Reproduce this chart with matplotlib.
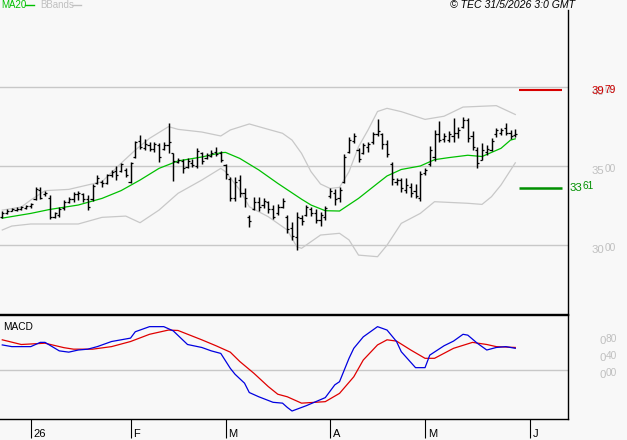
import numpy as np
import matplotlib
matplotlib.use("Agg")
import matplotlib.pyplot as plt
from matplotlib.lines import Line2D

plt.rcParams['font.family'] = ['Liberation Sans', 'DejaVu Sans']

# daily bars, prices in cents (the chart shows them as 35^00 etc.)
highs = [3217, 3226, 3234, 3238, 3249, 3255, 3268, 3369, 3369, 3344,
         3314, 3211, 3242, 3285, 3302, 3337, 3344, 3331, 3316, 3386,
         3441, 3411, 3449, 3475, 3500, 3521, 3485, 3527, 3658, 3696,
         3669, 3654, 3654, 3648, 3654, 3770, 3584, 3553, 3542, 3548,
         3542, 3612, 3591, 3580, 3601, 3618, 3597, 3513, 3432, 3432,
         3443, 3359, 3190, 3302, 3302, 3297, 3280, 3255, 3262, 3298,
         3190, 3148, 3211, 3190, 3253, 3242, 3226, 3211, 3247, 3358,
         3352, 3365, 3576, 3681, 3707, 3612, 3648, 3654, 3717, 3795,
         3707, 3665, 3524, 3422, 3426, 3422, 3390, 3384, 3470, 3488,
         3624, 3728, 3783, 3708, 3721, 3802, 3749, 3807, 3804, 3724,
         3620, 3645, 3633, 3677, 3738, 3738, 3773, 3730, 3735]
lows = [3169, 3194, 3215, 3217, 3221, 3226, 3232, 3285, 3289, 3310,
        3162, 3169, 3179, 3221, 3268, 3274, 3285, 3274, 3221, 3280,
        3386, 3369, 3386, 3432, 3411, 3464, 3432, 3394, 3548, 3605,
        3601, 3597, 3591, 3527, 3601, 3584, 3407, 3517, 3458, 3485,
        3491, 3485, 3513, 3542, 3559, 3563, 3527, 3416, 3280, 3280,
        3306, 3238, 3112, 3221, 3217, 3235, 3200, 3162, 3190, 3232,
        3078, 3031, 2968, 3126, 3183, 3183, 3137, 3120, 3158, 3295,
        3253, 3274, 3390, 3584, 3643, 3527, 3576, 3590, 3639, 3690,
        3605, 3559, 3380, 3380, 3338, 3327, 3306, 3300, 3280, 3443,
        3500, 3532, 3654, 3654, 3650, 3651, 3675, 3738, 3654, 3599,
        3490, 3538, 3570, 3595, 3685, 3696, 3696, 3670, 3682]
opens = [3180, 3200, 3218, 3222, 3228, 3235, 3245, 3290, 3350, 3320,
         3300, 3180, 3190, 3235, 3275, 3290, 3320, 3320, 3290, 3290,
         3390, 3400, 3395, 3445, 3470, 3470, 3475, 3400, 3555, 3660,
         3615, 3630, 3610, 3630, 3610, 3630, 3580, 3525, 3530, 3495,
         3520, 3500, 3580, 3550, 3565, 3590, 3580, 3505, 3420, 3300,
         3410, 3330, 3180, 3230, 3270, 3250, 3270, 3230, 3200, 3240,
         3180, 3110, 3050, 3170, 3190, 3230, 3200, 3160, 3180, 3310,
         3330, 3300, 3400, 3590, 3660, 3600, 3580, 3620, 3650, 3700,
         3700, 3640, 3510, 3400, 3410, 3350, 3370, 3340, 3300, 3455,
         3510, 3560, 3700, 3670, 3665, 3690, 3710, 3745, 3790, 3690,
         3600, 3540, 3590, 3600, 3700, 3710, 3740, 3710, 3695]
closes = [3205, 3215, 3225, 3230, 3240, 3245, 3260, 3355, 3300, 3330,
          3175, 3200, 3230, 3270, 3290, 3320, 3330, 3290, 3240, 3375,
          3425, 3390, 3440, 3465, 3440, 3510, 3445, 3520, 3650, 3620,
          3640, 3610, 3640, 3560, 3630, 3650, 3530, 3540, 3490, 3530,
          3505, 3595, 3530, 3570, 3585, 3575, 3535, 3450, 3300, 3400,
          3330, 3300, 3150, 3270, 3240, 3280, 3230, 3180, 3240, 3280,
          3100, 3060, 3180, 3150, 3240, 3200, 3160, 3190, 3235, 3340,
          3290, 3345, 3560, 3665, 3690, 3545, 3630, 3640, 3700, 3720,
          3640, 3575, 3420, 3410, 3360, 3380, 3330, 3310, 3450, 3475,
          3600, 3700, 3665, 3690, 3700, 3710, 3730, 3790, 3680, 3620,
          3520, 3600, 3610, 3660, 3725, 3730, 3710, 3690, 3700]

# indicator lines at some bar numbers
ma_idx = [0, 6, 10, 16, 21, 25, 29, 33, 37, 42, 46, 47, 50, 54, 58, 63, 65, 68,
          71, 75, 79, 81, 84, 88, 91, 94, 98, 101, 103, 105, 107, 108]
ma20 = [3170, 3200, 3225, 3253, 3295, 3344, 3411, 3485, 3532, 3557, 3584, 3586,
        3548, 3475, 3390, 3290, 3253, 3217, 3215, 3295, 3390, 3437, 3478, 3500,
        3540, 3553, 3568, 3560, 3586, 3612, 3664, 3672]

bbu_idx = [0, 4, 6, 9, 14, 21, 25, 28, 31, 35, 37, 42, 46, 48, 52, 56, 59, 61, 63,
           65, 67, 69, 71, 73, 75, 77, 79, 81, 84, 89, 93, 97, 104, 108]
bb_upper = [3221, 3240, 3285, 3344, 3352, 3401, 3517, 3601, 3675, 3749, 3732, 3715,
            3690, 3728, 3766, 3732, 3707, 3664, 3580, 3464, 3386, 3358, 3365, 3464,
            3622, 3728, 3845, 3865, 3844, 3795, 3815, 3873, 3882, 3826]

bbl_idx = [0, 2, 6, 16, 21, 26, 29, 33, 37, 42, 46, 47, 50, 52, 56, 60, 62, 63, 67,
           71, 73, 75, 79, 81, 84, 88, 91, 98, 101, 103, 105, 108]
bb_lower = [3095, 3120, 3133, 3133, 3175, 3183, 3141, 3221, 3327, 3411, 3485, 3464,
            3348, 3242, 3179, 3095, 2989, 2979, 3063, 3074, 3032, 2936, 2926, 2999,
            3137, 3200, 3274, 3264, 3257, 3306, 3380, 3520]

macd_idx = [0, 2, 6, 8, 9, 12, 14, 16, 18, 20, 23, 25, 27, 28, 31, 34, 36, 39, 42,
            44, 46, 48, 49, 51, 52, 54, 57, 59, 60, 61, 64, 66, 68, 70, 71, 73, 74,
            76, 79, 81, 83, 84, 87, 89, 90, 93, 95, 97, 98, 100, 102, 104, 106, 108]
macd = [0.59, 0.55, 0.55, 0.65, 0.65, 0.45, 0.42, 0.47, 0.49, 0.55, 0.67, 0.71,
        0.75, 0.90, 1.02, 1.02, 0.92, 0.60, 0.53, 0.45, 0.39, 0.04, -0.10, -0.31,
        -0.53, -0.63, -0.76, -0.78, -0.88, -0.965, -0.84, -0.745, -0.65, -0.35,
        -0.275, 0.275, 0.51, 0.78, 1.02, 0.94, 0.67, 0.43, 0.055, 0.055, 0.35,
        0.57, 0.68, 0.84, 0.82, 0.63, 0.47, 0.53, 0.55, 0.51]

sig_idx = [0, 4, 9, 13, 15, 19, 23, 27, 31, 35, 37, 42, 45, 48, 50, 53, 56, 58, 60,
           63, 68, 71, 74, 76, 79, 81, 83, 86, 89, 91, 95, 99, 102, 104, 108]
signal = [0.71, 0.60, 0.63, 0.525, 0.49, 0.49, 0.55, 0.67, 0.84, 0.94, 0.93, 0.71,
          0.57, 0.42, 0.20, -0.08, -0.39, -0.57, -0.63, -0.78, -0.745, -0.55, -0.16,
          0.235, 0.59, 0.71, 0.68, 0.47, 0.275, 0.275, 0.51, 0.65, 0.60, 0.55, 0.53]

resistance = 3979
support = 3361
month_pos = [6, 27, 47, 69, 89, 111]
month_labels = ["26", "F", "M", "A", "M", "J"]

BG = "#f8f8f8"
GRID = "#c8c8c8"

fig = plt.figure(figsize=(6.27, 4.40), dpi=100, facecolor=BG)
W, H = 627.0, 440.0
ax = fig.add_axes([0, 1 - 314 / H, 568 / W, (314 - 10) / H])
ax2 = fig.add_axes([0, 1 - 419 / H, 568 / W, (419 - 315) / H])

x = np.arange(len(closes))
xlim = (-0.48, 119.1)

for a in (ax, ax2):
    a.set_facecolor(BG)
    a.set_xlim(*xlim)
    a.set_yticks([])
    for s in ("left", "top"):
        a.spines[s].set_visible(False)
    a.spines["right"].set_color("black")
    a.spines["bottom"].set_color("black")
    a.spines["right"].set_linewidth(1.0)
    a.spines["bottom"].set_linewidth(1.0)
ax2.spines["top"].set_visible(True)
ax2.spines["top"].set_color("black")
ax2.spines["top"].set_linewidth(1.0)

ax.set_ylim(25.633, 44.873)
ax2.set_ylim(-1.153, 1.294)

for lvl in (30, 35, 40):
    ax.axhline(lvl, color=GRID, lw=1.0, zorder=1)
ax2.axhline(0, color=GRID, lw=1.0, zorder=1)

h = np.array(highs) / 100
l = np.array(lows) / 100
o = np.array(opens) / 100
c = np.array(closes) / 100

# bands and moving average
ax.plot(np.array(bbu_idx), np.array(bb_upper) / 100, color=GRID, lw=0.9, zorder=2)
ax.plot(np.array(bbl_idx), np.array(bb_lower) / 100, color=GRID, lw=0.9, zorder=2)
ax.plot(np.array(ma_idx), np.array(ma20) / 100, color="#00c000", lw=0.9, zorder=3)

# OHLC bars
ax.vlines(x, l, h, color="black", lw=1.05, zorder=4)
ax.hlines(o, x - 0.45, x, color="black", lw=0.9, zorder=4)
ax.hlines(c, x, x + 0.45, color="black", lw=0.9, zorder=4)

ax.hlines(resistance / 100, 108.8, 117.9, color="#d80000", lw=1.5, zorder=4)
ax.hlines(support / 100, 108.8, 117.9, color="#009000", lw=1.8, zorder=4)


def right_label(a, yval, big, small, color, dx, dy, fs=8.2):
    a.annotate(big, xy=(1, yval), xycoords=("axes fraction", "data"),
               xytext=(dx, dy), textcoords="offset pixels", ha="left", va="center",
               color=color, fontsize=fs, annotation_clip=False)
    w = len(big) * 0.556 * fs * 100 / 72
    a.annotate(small, xy=(1, yval), xycoords=("axes fraction", "data"),
               xytext=(dx + w - 0.5, dy + 1.5), textcoords="offset pixels",
               ha="left", va="center", color=color, fontsize=fs - 0.9,
               annotation_clip=False)


for lvl in (30, 35, 40):
    right_label(ax, lvl, str(lvl), "00", "#c0c0c0", 24, -5)
right_label(ax, resistance / 100, str(resistance // 100),
            "%02d" % (resistance % 100), "#d00000", 24, -1)
right_label(ax, support / 100, str(support // 100),
            "%02d" % (support % 100), "#009000", 2, 0)

# MACD panel
ax2.plot(np.array(sig_idx), signal, color="#e00000", lw=0.9, zorder=3)
ax2.plot(np.array(macd_idx), macd, color="#0000e0", lw=0.9, zorder=3)
for lvl, txt in ((0.8, "80"), (0.4, "40"), (0.0, "00")):
    right_label(ax2, lvl, "0", txt, "#c0c0c0", 32, -5)
ax2.text(0.005, 0.88, "MACD", transform=ax2.transAxes, fontsize=7.3,
         color="black", va="center", ha="left")

ax.set_xticks([])
ax2.set_xticks(month_pos)
ax2.set_xticklabels([""] * len(month_pos))
ax2.tick_params(axis="x", direction="out", length=13.7, width=0.8, color="black")
for p, lab in zip(month_pos, month_labels):
    ax2.annotate(lab, xy=(p, 0), xycoords=("data", "axes fraction"),
                 xytext=(3, -15), textcoords="offset pixels", ha="left",
                 va="center", fontsize=8, color="black", annotation_clip=False)

# header texts
fig.text(1 / W, 1 - 5 / H, "MA20", color="#00c000", fontsize=7, va="center")
fig.add_artist(Line2D([25 / W, 34 / W], [1 - 5 / H, 1 - 5 / H], color="#00c000", lw=1))
fig.text(40 / W, 1 - 5 / H, "BBands", color="#c0c0c0", fontsize=7, va="center")
fig.add_artist(Line2D([72 / W, 81 / W], [1 - 5 / H, 1 - 5 / H], color="#c0c0c0", lw=1))
fig.text(575 / W, 1 - 5 / H, "\u00a9 TEC 31/5/2026 3:0 GMT", color="black",
         fontsize=7.6, style="italic", va="center", ha="right")

fig.savefig("out.png", dpi=100, facecolor=BG)
